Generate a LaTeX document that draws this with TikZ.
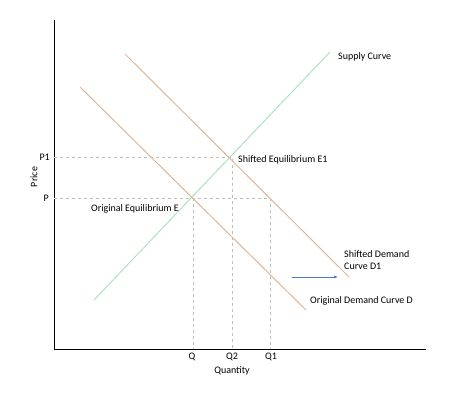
\documentclass[tikz,border=0pt]{standalone}
\usepackage{fontspec}
\setmainfont{Carlito}
\usetikzlibrary{arrows.meta}

\definecolor{demandcol}{RGB}{224,182,148}
\definecolor{supplycol}{RGB}{172,226,192}
\definecolor{shiftcol}{RGB}{80,120,196}
\definecolor{guidecol}{RGB}{190,190,190}

\tikzset{
    lbl/.style={inner sep=0pt, font=\fontsize{10}{11.5}\selectfont},
    demand/.style={demandcol, line width=1pt},
    supply/.style={supplycol, line width=1pt},
    guide/.style={guidecol, dash pattern=on 3pt off 3pt, line width=0.5pt},
    axis/.style={black, line width=1pt}
}

\begin{document}
\begin{tikzpicture}[x=1pt, y=-1pt]
    \useasboundingbox (0,0) rectangle (474,396);
    % axes
    \coordinate (origin) at (54,349);
    \coordinate (ytop) at (54,20);
    \coordinate (xend) at (426,349);
    \draw[axis] (ytop) -- (origin) -- (xend);

    % curves
    \coordinate (s0) at (94,300);
    \coordinate (s1) at (330,52);
    \coordinate (d0) at (80,87);
    \coordinate (d1) at (306,310);
    \coordinate (dd0) at (125,54);
    \coordinate (dd1) at (349,277);
    \coordinate (E) at (193,198);
    \coordinate (E1) at (232,157);

    % guides
    \coordinate (p) at (54,198);
    \coordinate (p1) at (54,157);
    \coordinate (q) at (193,349);
    \coordinate (q2) at (232,349);
    \coordinate (q1) at (270,349);
    \coordinate (pq1) at (270,198);
    \draw[guide] (p) -- (pq1) -- (q1);
    \draw[guide] (p1) -- (E1) -- (q2);
    \draw[guide] (E) -- (q);

    \draw[supply] (s0) -- (s1);
    \draw[demand] (d0) -- (d1);
    \draw[demand] (dd0) -- (dd1);

    % shift arrow
    \coordinate (a0) at (292,277);
    \coordinate (a1) at (338,277);
    \draw[shiftcol, line width=0.6pt, -{Latex[length=4pt, width=3pt]}] (a0) -- (a1);

    % labels
    \node[lbl, anchor=east] (plbl) at (49,198) {P};
    \node[lbl, anchor=east] (p1lbl) at (50,157) {P1};
    \node[lbl, rotate=90] (price) at (34,177) {Price};
    \node[lbl] (qlbl) at (192,357) {Q};
    \node[lbl] (q2lbl) at (232,357) {Q2};
    \node[lbl] (q1lbl) at (271,357) {Q1};
    \node[lbl] (quantity) at (232,371) {Quantity};
    \node[lbl, anchor=west] (supplylbl) at (338,57) {Supply Curve};
    \node[lbl, anchor=west] (e1lbl) at (238,160) {Shifted Equilibrium E1};
    \node[lbl, anchor=west] (elbl) at (91,209) {Original Equilibrium E};
    \node[lbl, anchor=west, align=left] (d1lbl) at (344,260) {Shifted Demand\\Curve D1};
    \node[lbl, anchor=west] (dlbl) at (310,301) {Original Demand Curve D};
\end{tikzpicture}
\end{document}
